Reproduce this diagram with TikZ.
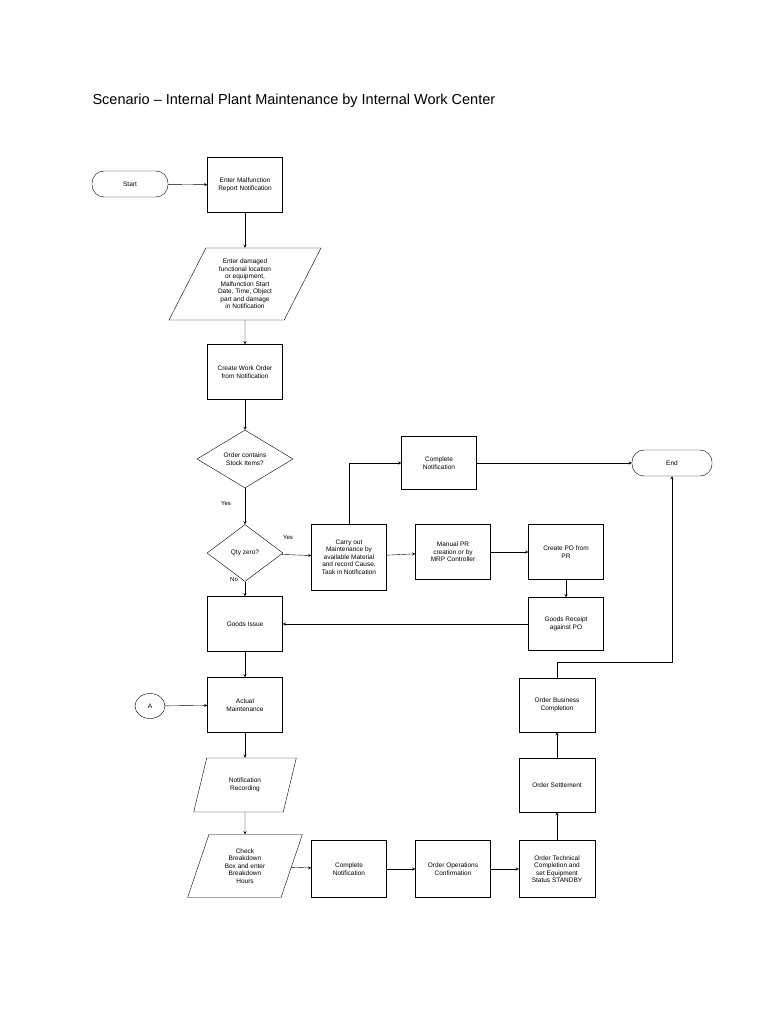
\documentclass[tikz,border=0pt]{standalone}
\usepackage{fontspec}
\setmainfont{Liberation Sans}
\usetikzlibrary{shapes.geometric, positioning}

\begin{document}
\begin{tikzpicture}[x=1pt, y=-1pt, >=stealth, font=\fontsize{6.5}{7.5}\selectfont,
    task/.style={draw, rectangle, minimum width=75pt, minimum height=55pt, align=center, inner sep=1pt},
    term/.style={draw, rounded corners=12pt, minimum width=76pt, minimum height=26pt},
    io/.style={draw, trapezium, trapezium stretches=true, trapezium left angle=#1, trapezium right angle=180-#1, align=center, inner sep=0pt},
    test/.style={draw, diamond, aspect=1.6, align=center, inner sep=1pt},
    lab/.style={font=\fontsize{6}{7}\selectfont}]

            \useasboundingbox (0,0) rectangle (768,1024);

            % Title
            \node[anchor=west, font=\fontsize{14.5}{16}\selectfont] (title) at (89,101) {Scenario -- Internal Plant Maintenance by Internal Work Center};

            % Main column
            \node[term] (start) at (130,184) {Start};
            \node[task] (report) at (245,185) {Enter Malfunction\\Report Notification};
            \node[io=63, minimum width=152pt, minimum height=72pt] (damage) at (245,284) {Enter damaged\\functional location\\or equipment,\\Malfunction Start\\Date, Time, Object\\part and damage\\in Notification};
            \node[task] (order) at (245,372) {Create Work Order\\from Notification};
            \node[test, minimum width=96pt, minimum height=58pt] (stock) at (245,459) {Order contains\\Stock Items?};
            \node[test, minimum width=76pt, minimum height=57pt] (qty) at (245,553) {Qty zero?};
            \node[task] (issue) at (245,624) {Goods Issue};
            \node[task] (actual) at (245,705) {Actual\\Maintenance};
            \node[draw, ellipse, minimum width=30pt, minimum height=25pt] (conA) at (150,706) {A};
            \node[io=68, minimum width=103pt, minimum height=54pt] (record) at (245,785) {Notification\\Recording};
            \node[io=71, minimum width=115pt, minimum height=63pt] (breakdown) at (245,866) {Check\\Breakdown\\Box and enter\\Breakdown\\Hours};

            % Stock branch
            \node[task, minimum height=66pt] (carry) at (349,557) {Carry out\\Maintenance by\\available Material\\and record Cause,\\Task in Notification};
            \node[task, minimum height=53pt] (compl1) at (439,463) {Complete\\Notification};
            \node[term, minimum width=80pt] (end) at (672,463) {End};
            \node[task] (manual) at (453,552) {Manual PR\\creation or by\\MRP Controller};
            \node[task] (po) at (566,552) {Create PO from\\PR};
            \node[task, minimum height=53pt] (receipt) at (566,624) {Goods Receipt\\against PO};

            % Completion row
            \node[task, minimum height=57pt] (compl2) at (349,869) {Complete\\Notification};
            \node[task, minimum height=57pt] (ops) at (453,869) {Order Operations\\Confirmation};
            \node[task, minimum width=76pt, minimum height=57pt] (tech) at (557,869) {Order Technical\\Completion and\\set Equipment\\Status STANDBY};
            \node[task, minimum width=76pt, minimum height=54pt] (settle) at (557,785) {Order Settlement};
            \node[task, minimum width=76pt, minimum height=54pt] (business) at (557,705) {Order Business\\Completion};
            \coordinate (bend) at (672,662);

            % Labels
            \node[lab] (yes1) at (226,503) {Yes};
            \node[lab] (yes2) at (288,537) {Yes};
            \node[lab] (no) at (234,579) {No};

            % Arrows down the main column
            \draw[->] (start) -- (report);
            \draw[->] (report) -- (damage);
            \draw[->] (damage) -- (order);
            \draw[->] (order) -- (stock);
            \draw[->] (stock) -- (qty);
            \draw[->] (qty) -- (issue);
            \draw[->] (issue) -- (actual);
            \draw[->] (conA) -- (actual);
            \draw[->] (actual) -- (record);
            \draw[->] (record) -- (breakdown);

            % Arrows of the stock branch
            \draw[->] (qty) -- (carry);
            \draw[->] (carry.north) |- (compl1);
            \draw[->] (compl1) -- (end);
            \draw[->] (carry) -- (manual);
            \draw[->] (manual) -- (po);
            \draw[->] (po) -- (receipt);
            \draw[->] (receipt) -- (issue);

            % Arrows of the completion row
            \draw[->] (breakdown) -- (compl2);
            \draw[->] (compl2) -- (ops);
            \draw[->] (ops) -- (tech);
            \draw[->] (tech) -- (settle);
            \draw[->] (settle) -- (business);
            \draw[->] (business.north) |- (bend) -- (end);

        \end{tikzpicture}
\end{document}
